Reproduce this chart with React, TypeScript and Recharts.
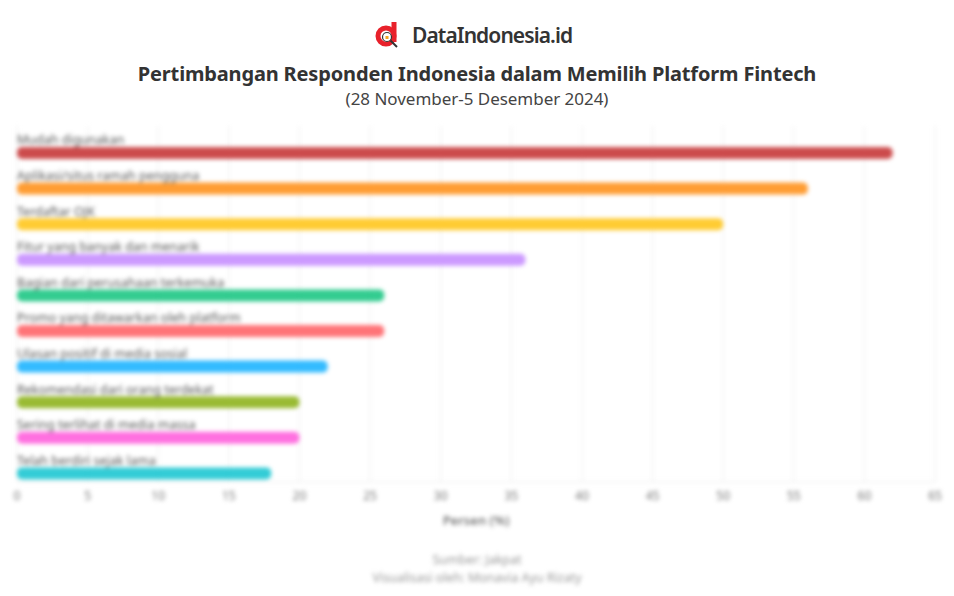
import { Bar, BarChart, CartesianGrid, Cell, Label, LabelList, XAxis, YAxis } from "recharts";

const FONT = "'Noto Sans', sans-serif";
const TEXT = "#333333";
const BLUR = "blur(2px)";

const categories = [
  "Mudah digunakan",
  "Aplikasi/situs ramah pengguna",
  "Terdaftar OJK",
  "Fitur yang banyak dan menarik",
  "Bagian dari perusahaan terkemuka",
  "Promo yang ditawarkan oleh platform",
  "Ulasan positif di media sosial",
  "Rekomendasi dari orang terdekat",
  "Sering terlihat di media massa",
  "Telah berdiri sejak lama",
];
const percents = [62, 56, 50, 36, 26, 26, 22, 20, 20, 18];
const barColors = [
  "#CC4B4C",
  "#FF9D33",
  "#FFCC33",
  "#CC99FF",
  "#33CC90",
  "#FF7478",
  "#33BBFF",
  "#99BB33",
  "#FF70E0",
  "#33CCD6",
];
const xTicks = [0, 5, 10, 15, 20, 25, 30, 35, 40, 45, 50, 55, 60, 65];

// "slot" is an invisible twin of the value, it only reserves the row above each bar for the label
const rows = categories.map((name, i) => ({ name, value: percents[i], slot: percents[i] }));

function Logo() {
  return (
    <svg width={26} height={30} viewBox="0 0 26 30" style={{ position: "absolute", left: 375, top: 20 }}>
      <circle cx={11} cy={16} r={8} fill="none" stroke="#E8212B" strokeWidth={5} />
      <rect x={16.5} y={2} width={5} height={20} fill="#E8212B" />
      <circle cx={12} cy={17} r={4.5} fill="#fff" stroke="#333" strokeWidth={1.2} />
      <rect x={10.5} y={16} width={3} height={3} fill="#F5A623" />
      <line x1={15.5} y1={20.5} x2={22} y2={27} stroke="#333" strokeWidth={2} />
    </svg>
  );
}

export default function App() {
  return (
    <div
      style={{
        position: "absolute",
        left: 0,
        top: 0,
        width: 954,
        height: 596,
        background: "#fff",
        fontFamily: FONT,
        overflow: "hidden",
      }}
    >
      <div style={{ filter: BLUR, position: "absolute", left: 0, top: 0 }}>
        <BarChart
          width={954}
          height={596}
          data={rows}
          layout="vertical"
          barGap={0}
          margin={{ top: 126, right: 19, left: 17, bottom: 84 }}
        >
          <CartesianGrid horizontal={false} stroke="#EDEDED" />
          <XAxis
            type="number"
            domain={[0, 65]}
            ticks={xTicks}
            height={30}
            axisLine={{ stroke: "#EDEDED" }}
            tickLine={false}
            tick={{ fontSize: 12, fill: "#777", fontFamily: FONT }}
            tickMargin={3}
          >
            <Label
              value="Persen (%)"
              position="insideBottom"
              offset={-13}
              style={{ fontSize: 13, fontWeight: 600, fill: "#777", fontFamily: FONT }}
            />
          </XAxis>
          <YAxis type="category" dataKey="name" hide />
          <Bar dataKey="slot" barSize={18} fill="transparent" isAnimationActive={false}>
            <LabelList
              dataKey="name"
              position="insideLeft"
              offset={0}
              dy={2}
              style={{ fontSize: 12.5, fill: "#555", fontFamily: FONT }}
            />
          </Bar>
          <Bar dataKey="value" barSize={12} radius={5} isAnimationActive={false}>
            {rows.map((_, i) => (
              <Cell key={i} fill={barColors[i]} />
            ))}
          </Bar>
        </BarChart>
        <div
          style={{
            position: "absolute",
            top: 551,
            width: 954,
            textAlign: "center",
            fontSize: 12.5,
            lineHeight: "18px",
            color: "#999",
          }}
        >
          Sumber: Jakpat
          <br />
          Visualisasi oleh: Monavia Ayu Rizaty
        </div>
      </div>

      <Logo />
      <div
        style={{
          position: "absolute",
          left: 412,
          top: 19,
          fontSize: 21,
          lineHeight: "32px",
          fontWeight: 600,
          letterSpacing: -0.92,
          color: TEXT,
        }}
      >
        DataIndonesia.id
      </div>
      <div
        style={{
          position: "absolute",
          top: 59,
          width: 954,
          textAlign: "center",
          fontSize: 20,
          lineHeight: "30px",
          fontWeight: 700,
          letterSpacing: -0.16,
          color: TEXT,
        }}
      >
        Pertimbangan Responden Indonesia dalam Memilih Platform Fintech
      </div>
      <div
        style={{
          position: "absolute",
          top: 85,
          width: 954,
          textAlign: "center",
          fontSize: 17,
          lineHeight: "28px",
          letterSpacing: -0.03,
          color: "#444",
        }}
      >
        (28 November-5 Desember 2024)
      </div>
    </div>
  );
}
